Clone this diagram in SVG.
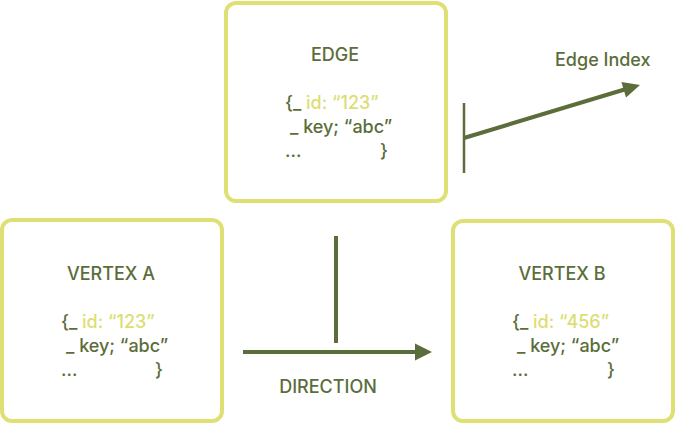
<svg xmlns="http://www.w3.org/2000/svg" width="675" height="423" viewBox="0 0 675 423">
<style>
.box{fill:#ffffff;stroke:#dfe074;stroke-width:4}
text{font-family:Inter,"Noto Sans","Liberation Sans",sans-serif;font-size:18px;font-weight:500;fill:#5b6d3a}
.t{text-anchor:middle}
.y{fill:#dcde74}
.ln{stroke:#5b6d3a;fill:none;stroke-width:4}
.hd{fill:#5b6d3a}
</style>
<rect width="675" height="423" fill="#ffffff"/>
<g id="edge">
<rect class="box" x="226" y="3" width="220" height="198" rx="10"/>
<text class="t" x="335" y="61">EDGE</text>
<text x="285" y="109">{_ <tspan class="y">id: “123”</tspan></text>
<text x="290" y="133">_ key; “abc”</text>
<text x="285" y="157">...</text>
<text x="380" y="157">}</text>
</g>
<g id="vertex-a">
<rect class="box" x="2" y="220" width="220" height="201" rx="10"/>
<text class="t" x="111" y="280">VERTEX A</text>
<text x="61" y="328">{_ <tspan class="y">id: “123”</tspan></text>
<text x="66" y="352">_ key; “abc”</text>
<text x="61" y="376">...</text>
<text x="155" y="376">}</text>
</g>
<g id="vertex-b">
<rect class="box" x="453" y="221" width="220" height="200" rx="10"/>
<text class="t" x="562" y="280">VERTEX B</text>
<text x="512" y="328">{_ <tspan class="y">id: “456”</tspan></text>
<text x="517" y="352">_ key; “abc”</text>
<text x="512" y="376">...</text>
<text x="607" y="376">}</text>
</g>
<g id="connectors">
<line class="ln" x1="336" y1="236" x2="336" y2="343"/>
<line class="ln" x1="243" y1="352" x2="416" y2="352"/>
<polygon class="hd" points="432,352 415,343.5 415,360.5"/>
<text class="t" x="328" y="393">DIRECTION</text>
<line class="ln" x1="464" y1="103" x2="464" y2="173" style="stroke-width:2.5"/>
<line class="ln" x1="464" y1="138" x2="624.5" y2="89.5"/>
<polygon class="hd" points="640,85 626,97.5 621.4,82.1"/>
<text x="555" y="66">Edge Index</text>
</g>
</svg>
